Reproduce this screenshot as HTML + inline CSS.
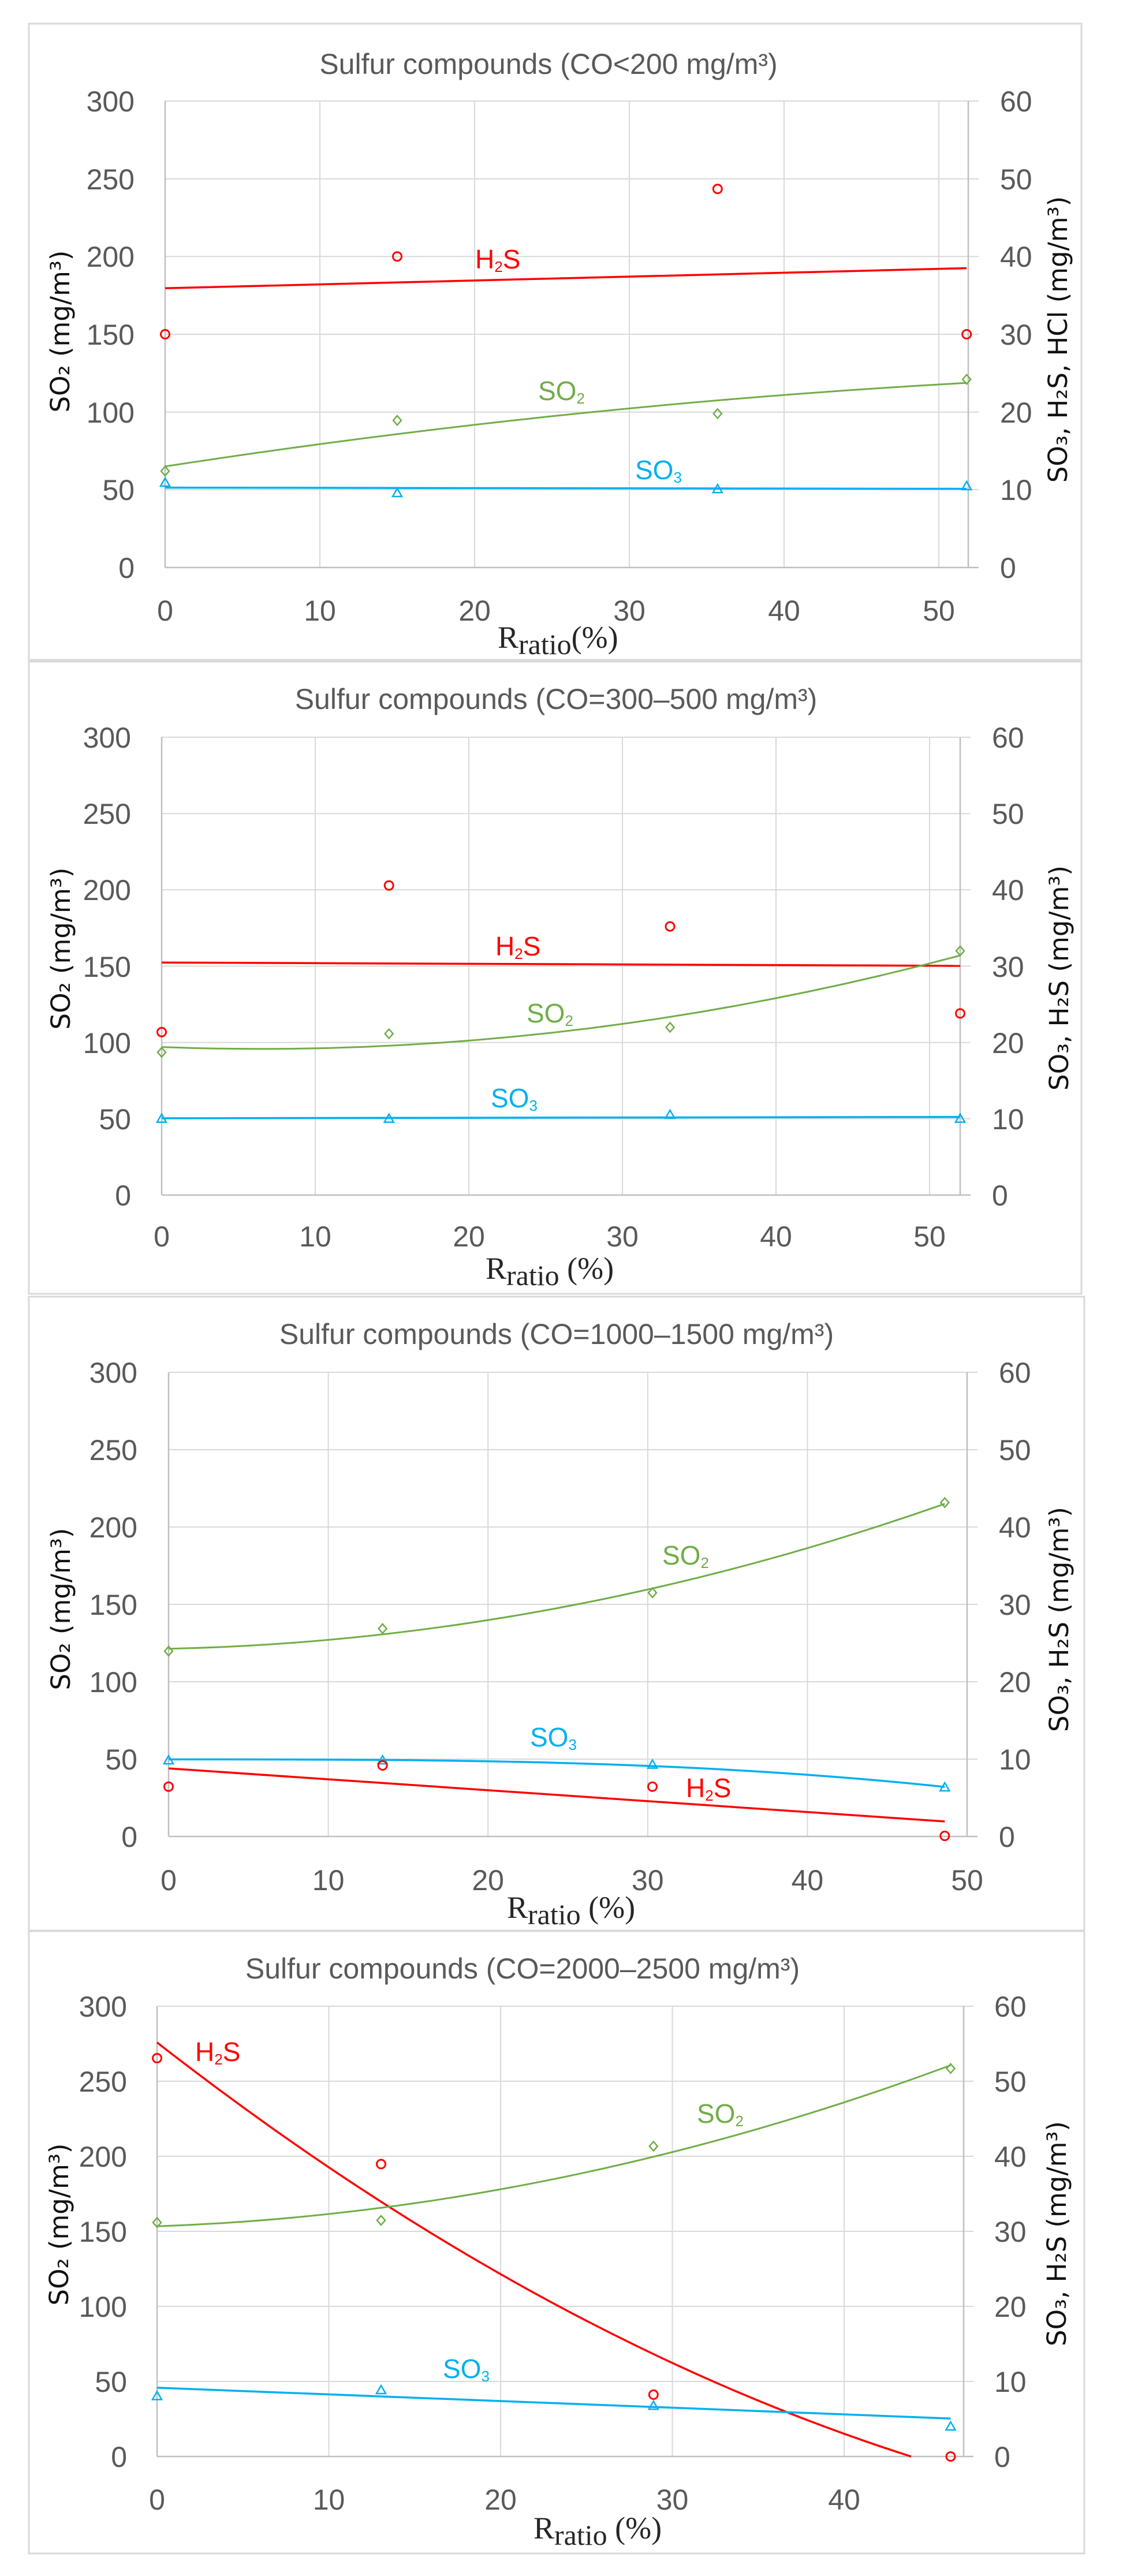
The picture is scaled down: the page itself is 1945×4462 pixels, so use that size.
<!DOCTYPE html>
<html><head><meta charset="utf-8"><style>
html,body{margin:0;padding:0;background:#fff}
svg{display:block}
.tk{font-family:"Liberation Sans",sans-serif;font-size:50px;fill:#595959}
.tl{font-family:"Liberation Sans",sans-serif;font-size:50px;fill:#595959;text-anchor:middle}
.ax{font-family:"DejaVu Sans",sans-serif;font-size:45px;fill:#111;text-anchor:middle}
.xt{font-family:"Liberation Serif",serif;font-size:54px;fill:#262626}
.lb{font-family:"Liberation Sans",sans-serif;font-size:46px}
.g{stroke:#d9d9d9;stroke-width:2;fill:none}
.a{stroke:#bfbfbf;stroke-width:2.5;fill:none}
.bd{stroke:#d9d9d9;stroke-width:3;fill:none}
.r{stroke:#ff0000;fill:none}
.gr{stroke:#70ad47;fill:none}
.bl{stroke:#00b0f0;fill:none}
</style></head><body>
<svg width="1945" height="4462" viewBox="0 0 1945 4462" xmlns="http://www.w3.org/2000/svg">
<rect width="1945" height="4462" fill="#fff"/>

<!-- ================= PANEL 1 ================= -->
<rect class="bd" x="50" y="41" width="1823" height="1102"/>
<text class="tl" x="950" y="128">Sulfur compounds  (CO&lt;200 mg/m³)</text>
<g class="g">
<line x1="286" y1="848.3" x2="1695" y2="848.3"/><line x1="286" y1="713.7" x2="1695" y2="713.7"/>
<line x1="286" y1="579" x2="1695" y2="579"/><line x1="286" y1="444.3" x2="1695" y2="444.3"/>
<line x1="286" y1="309.7" x2="1695" y2="309.7"/><line x1="286" y1="175" x2="1695" y2="175"/>
<line x1="554" y1="175" x2="554" y2="983"/><line x1="822" y1="175" x2="822" y2="983"/>
<line x1="1090" y1="175" x2="1090" y2="983"/><line x1="1358" y1="175" x2="1358" y2="983"/>
<line x1="1626" y1="175" x2="1626" y2="983"/>
</g>
<g class="a">
<line x1="286" y1="175" x2="286" y2="983"/><line x1="1677" y1="175" x2="1677" y2="983"/>
<line x1="286" y1="983" x2="1695" y2="983"/>
</g>
<g class="tk" text-anchor="end">
<text x="233" y="1001">0</text><text x="233" y="866">50</text><text x="233" y="732">100</text>
<text x="233" y="597">150</text><text x="233" y="462">200</text><text x="233" y="328">250</text><text x="233" y="193">300</text>
</g>
<g class="tk">
<text x="1732" y="1001">0</text><text x="1732" y="866">10</text><text x="1732" y="732">20</text>
<text x="1732" y="597">30</text><text x="1732" y="462">40</text><text x="1732" y="328">50</text><text x="1732" y="193">60</text>
</g>
<g class="tl">
<text x="286" y="1075">0</text><text x="554" y="1075">10</text><text x="822" y="1075">20</text>
<text x="1090" y="1075">30</text><text x="1358" y="1075">40</text><text x="1626" y="1075">50</text>
</g>
<text class="ax" transform="translate(120,574) rotate(-90)">SO₂ (mg/m³)</text>
<text class="ax" transform="translate(1848,588) rotate(-90)">SO₃, H₂S, HCl (mg/m³)</text>
<text class="xt" x="862" y="1122">R<tspan dy="11" font-size="50">ratio</tspan><tspan dy="-11">(%)</tspan></text>
<!-- trends -->
<line class="r" stroke-width="3.5" x1="286" y1="499.3" x2="1674" y2="464.5"/>
<path class="gr" stroke-width="3" d="M286,807.9 Q980.1,701.3 1674.2,663.3"/>
<line class="bl" stroke-width="3.5" x1="286" y1="844.6" x2="1674" y2="846.7"/>
<!-- points -->
<g class="r" stroke-width="3">
<circle cx="286" cy="579" r="7.5"/><circle cx="688" cy="444.3" r="7.5"/>
<circle cx="1242.8" cy="327.2" r="7.5"/><circle cx="1674.2" cy="579" r="7.5"/>
</g>
<g class="gr" stroke-width="2.5">
<polygon points="286,808 293,816 286,824 279,816"/><polygon points="688,720.2 695,728.2 688,736.2 681,728.2"/>
<polygon points="1242.8,708.4 1249.8,716.4 1242.8,724.4 1235.8,716.4"/><polygon points="1674.2,649.1 1681.2,657.1 1674.2,665.1 1667.2,657.1"/>
</g>
<g class="bl" stroke-width="2.5">
<polygon points="286,828 294,842 278,842"/><polygon points="688,846 696,860 680,860"/>
<polygon points="1242.8,839.3 1250.8,853.3 1234.8,853.3"/><polygon points="1674.2,834 1682.2,848 1666.2,848"/>
</g>
<text class="lb" x="823" y="465" fill="#ff0000">H<tspan font-size="26" dy="6">2</tspan><tspan dy="-6">S</tspan></text>
<text class="lb" x="932" y="693" fill="#70ad47">SO<tspan font-size="26" dy="6">2</tspan></text>
<text class="lb" x="1100" y="830" fill="#00b0f0">SO<tspan font-size="26" dy="6">3</tspan></text>

<!-- ================= PANEL 2 ================= -->
<rect class="bd" x="50" y="1146" width="1823" height="1095"/>
<text class="tl" x="963" y="1228">Sulfur compounds  (CO=300–500 mg/m³)</text>
<g class="g">
<line x1="280" y1="1937.8" x2="1681" y2="1937.8"/><line x1="280" y1="1805.7" x2="1681" y2="1805.7"/>
<line x1="280" y1="1673.5" x2="1681" y2="1673.5"/><line x1="280" y1="1541.3" x2="1681" y2="1541.3"/>
<line x1="280" y1="1409.2" x2="1681" y2="1409.2"/><line x1="280" y1="1277" x2="1681" y2="1277"/>
<line x1="546" y1="1277" x2="546" y2="2070"/><line x1="812" y1="1277" x2="812" y2="2070"/>
<line x1="1078" y1="1277" x2="1078" y2="2070"/><line x1="1344" y1="1277" x2="1344" y2="2070"/>
<line x1="1610" y1="1277" x2="1610" y2="2070"/>
</g>
<g class="a">
<line x1="280" y1="1277" x2="280" y2="2070"/><line x1="1663" y1="1277" x2="1663" y2="2070"/>
<line x1="280" y1="2070" x2="1681" y2="2070"/>
</g>
<g class="tk" text-anchor="end">
<text x="227" y="2088">0</text><text x="227" y="1956">50</text><text x="227" y="1824">100</text>
<text x="227" y="1692">150</text><text x="227" y="1559">200</text><text x="227" y="1427">250</text><text x="227" y="1295">300</text>
</g>
<g class="tk">
<text x="1718" y="2088">0</text><text x="1718" y="1956">10</text><text x="1718" y="1824">20</text>
<text x="1718" y="1692">30</text><text x="1718" y="1559">40</text><text x="1718" y="1427">50</text><text x="1718" y="1295">60</text>
</g>
<g class="tl">
<text x="280" y="2159">0</text><text x="546" y="2159">10</text><text x="812" y="2159">20</text>
<text x="1078" y="2159">30</text><text x="1344" y="2159">40</text><text x="1610" y="2159">50</text>
</g>
<text class="ax" transform="translate(121,1643) rotate(-90)">SO₂ (mg/m³)</text>
<text class="ax" transform="translate(1850,1694) rotate(-90)">SO₃, H₂S (mg/m³)</text>
<text class="xt" x="841" y="2215">R<tspan dy="11" font-size="50">ratio</tspan><tspan dy="-11"> (%)</tspan></text>
<line class="r" stroke-width="3.5" x1="280" y1="1667.2" x2="1663" y2="1673"/>
<path class="gr" stroke-width="3" d="M280,1813.6 Q971.6,1839.8 1663,1655"/>
<line class="bl" stroke-width="3.5" x1="280" y1="1937" x2="1663" y2="1934.7"/>
<g class="r" stroke-width="3">
<circle cx="280" cy="1787.7" r="7.5"/><circle cx="673.7" cy="1533.7" r="7.5"/>
<circle cx="1160.5" cy="1604.8" r="7.5"/><circle cx="1663" cy="1755.4" r="7.5"/>
</g>
<g class="gr" stroke-width="2.5">
<polygon points="280,1814.8 287,1822.8 280,1830.8 273,1822.8"/><polygon points="673.7,1782.6 680.7,1790.6 673.7,1798.6 666.7,1790.6"/>
<polygon points="1160.5,1771.5 1167.5,1779.5 1160.5,1787.5 1153.5,1779.5"/><polygon points="1663,1639.1 1670,1647.1 1663,1655.1 1656,1647.1"/>
</g>
<g class="bl" stroke-width="2.5">
<polygon points="280,1929.8 288,1943.8 272,1943.8"/><polygon points="673.7,1929.8 681.7,1943.8 665.7,1943.8"/>
<polygon points="1160.5,1923 1168.5,1937 1152.5,1937"/><polygon points="1663,1929.8 1671,1943.8 1655,1943.8"/>
</g>
<text class="lb" x="858" y="1655" fill="#ff0000">H<tspan font-size="26" dy="6">2</tspan><tspan dy="-6">S</tspan></text>
<text class="lb" x="912" y="1771" fill="#70ad47">SO<tspan font-size="26" dy="6">2</tspan></text>
<text class="lb" x="850" y="1918" fill="#00b0f0">SO<tspan font-size="26" dy="6">3</tspan></text>

<!-- ================= PANEL 3 ================= -->
<rect class="bd" x="50" y="2246" width="1828" height="1098"/>
<text class="tl" x="964" y="2328">Sulfur compounds  (CO=1000–1500 mg/m³)</text>
<g class="g">
<line x1="292" y1="3047" x2="1693" y2="3047"/><line x1="292" y1="2913" x2="1693" y2="2913"/>
<line x1="292" y1="2779" x2="1693" y2="2779"/><line x1="292" y1="2645" x2="1693" y2="2645"/>
<line x1="292" y1="2511" x2="1693" y2="2511"/><line x1="292" y1="2377" x2="1693" y2="2377"/>
<line x1="568.6" y1="2377" x2="568.6" y2="3181"/><line x1="845.2" y1="2377" x2="845.2" y2="3181"/>
<line x1="1121.8" y1="2377" x2="1121.8" y2="3181"/><line x1="1398.4" y1="2377" x2="1398.4" y2="3181"/>
</g>
<g class="a">
<line x1="292" y1="2377" x2="292" y2="3181"/><line x1="1675" y1="2377" x2="1675" y2="3181"/>
<line x1="292" y1="3181" x2="1693" y2="3181"/>
</g>
<g class="tk" text-anchor="end">
<text x="238" y="3199">0</text><text x="238" y="3065">50</text><text x="238" y="2931">100</text>
<text x="238" y="2797">150</text><text x="238" y="2663">200</text><text x="238" y="2529">250</text><text x="238" y="2395">300</text>
</g>
<g class="tk">
<text x="1730" y="3199">0</text><text x="1730" y="3065">10</text><text x="1730" y="2931">20</text>
<text x="1730" y="2797">30</text><text x="1730" y="2663">40</text><text x="1730" y="2529">50</text><text x="1730" y="2395">60</text>
</g>
<g class="tl">
<text x="292" y="3274">0</text><text x="568.6" y="3274">10</text><text x="845.2" y="3274">20</text>
<text x="1121.8" y="3274">30</text><text x="1398.4" y="3274">40</text><text x="1675" y="3274">50</text>
</g>
<text class="ax" transform="translate(121,2787) rotate(-90)">SO₂ (mg/m³)</text>
<text class="ax" transform="translate(1850,2805) rotate(-90)">SO₃, H₂S (mg/m³)</text>
<text class="xt" x="878" y="3322">R<tspan dy="11" font-size="50">ratio</tspan><tspan dy="-11"> (%)</tspan></text>
<path class="gr" stroke-width="3" d="M292,2855.9 Q964.1,2841.2 1636.3,2604.8"/>
<path class="bl" stroke-width="3.5" d="M292,3047.5 C740.1,3047.5 1188.2,3047.5 1636.3,3095.2"/>
<line class="r" stroke-width="3.5" x1="292" y1="3063.1" x2="1636.3" y2="3155"/>
<g class="gr" stroke-width="2.5">
<polygon points="292,2852 299,2860 292,2868 285,2860"/><polygon points="662.6,2813 669.6,2821 662.6,2829 655.6,2821"/>
<polygon points="1130,2750.9 1137,2758.9 1130,2766.9 1123,2758.9"/><polygon points="1636.3,2594.7 1643.3,2602.7 1636.3,2610.7 1629.3,2602.7"/>
</g>
<g class="bl" stroke-width="2.5">
<polygon points="292,3041.1 300,3055.1 284,3055.1"/><polygon points="662.6,3041.1 670.6,3055.1 654.6,3055.1"/>
<polygon points="1130,3048.6 1138,3062.6 1122,3062.6"/><polygon points="1636.3,3088 1644.3,3102 1628.3,3102"/>
</g>
<g class="r" stroke-width="3">
<circle cx="292" cy="3094.7" r="7.5"/><circle cx="662.6" cy="3058" r="7.5"/>
<circle cx="1130" cy="3094.7" r="7.5"/><circle cx="1636.3" cy="3180" r="7.5"/>
</g>
<text class="lb" x="1147" y="2710" fill="#70ad47">SO<tspan font-size="26" dy="6">2</tspan></text>
<text class="lb" x="918" y="3025" fill="#00b0f0">SO<tspan font-size="26" dy="6">3</tspan></text>
<text class="lb" x="1188" y="3113" fill="#ff0000">H<tspan font-size="26" dy="6">2</tspan><tspan dy="-6">S</tspan></text>

<!-- ================= PANEL 4 ================= -->
<rect class="bd" x="50" y="3345" width="1828" height="1078"/>
<text class="tl" x="905" y="3427">Sulfur compounds  (CO=2000–2500 mg/m³)</text>
<g class="g">
<line x1="272" y1="4125" x2="1686" y2="4125"/><line x1="272" y1="3995" x2="1686" y2="3995"/>
<line x1="272" y1="3865" x2="1686" y2="3865"/><line x1="272" y1="3735" x2="1686" y2="3735"/>
<line x1="272" y1="3605" x2="1686" y2="3605"/><line x1="272" y1="3475" x2="1686" y2="3475"/>
<line x1="569.5" y1="3475" x2="569.5" y2="4255"/><line x1="867" y1="3475" x2="867" y2="4255"/>
<line x1="1164.5" y1="3475" x2="1164.5" y2="4255"/><line x1="1462" y1="3475" x2="1462" y2="4255"/>
</g>
<g class="a">
<line x1="272" y1="3475" x2="272" y2="4255"/><line x1="1669" y1="3475" x2="1669" y2="4255"/>
<line x1="272" y1="4255" x2="1686" y2="4255"/>
</g>
<g class="tk" text-anchor="end">
<text x="220" y="4273">0</text><text x="220" y="4143">50</text><text x="220" y="4013">100</text>
<text x="220" y="3883">150</text><text x="220" y="3753">200</text><text x="220" y="3623">250</text><text x="220" y="3493">300</text>
</g>
<g class="tk">
<text x="1722" y="4273">0</text><text x="1722" y="4143">10</text><text x="1722" y="4013">20</text>
<text x="1722" y="3883">30</text><text x="1722" y="3753">40</text><text x="1722" y="3623">50</text><text x="1722" y="3493">60</text>
</g>
<g class="tl">
<text x="272" y="4347">0</text><text x="569.5" y="4347">10</text><text x="867" y="4347">20</text>
<text x="1164.5" y="4347">30</text><text x="1462" y="4347">40</text>
</g>
<text class="ax" transform="translate(118,3853) rotate(-90)">SO₂ (mg/m³)</text>
<text class="ax" transform="translate(1846,3869) rotate(-90)">SO₃, H₂S (mg/m³)</text>
<text class="xt" x="924" y="4397">R<tspan dy="11" font-size="50">ratio</tspan><tspan dy="-11"> (%)</tspan></text>
<path class="r" stroke-width="3.5" d="M272,3537.9 Q925,4046.7 1578,4255"/>
<path class="gr" stroke-width="3" d="M272,3856.2 Q959.2,3832.2 1646.5,3577.4"/>
<line class="bl" stroke-width="3.5" x1="272" y1="4135.9" x2="1646.5" y2="4189.2"/>
<g class="r" stroke-width="3">
<circle cx="272" cy="3565" r="7.5"/><circle cx="660" cy="3748.5" r="7.5"/>
<circle cx="1131.8" cy="4147.9" r="7.5"/><circle cx="1646.5" cy="4255" r="7.5"/>
</g>
<g class="gr" stroke-width="2.5">
<polygon points="272,3841.7 279,3849.7 272,3857.7 265,3849.7"/><polygon points="660,3838 667,3846 660,3854 653,3846"/>
<polygon points="1131.8,3709.6 1138.8,3717.6 1131.8,3725.6 1124.8,3717.6"/><polygon points="1646.5,3574.9 1653.5,3582.9 1646.5,3590.9 1639.5,3582.9"/>
</g>
<g class="bl" stroke-width="2.5">
<polygon points="272,4142.4 280,4156.4 264,4156.4"/><polygon points="660,4132 668,4146 652,4146"/>
<polygon points="1131.8,4159.1 1139.8,4173.1 1123.8,4173.1"/><polygon points="1646.5,4195 1654.5,4209 1638.5,4209"/>
</g>
<text class="lb" x="338" y="3570" fill="#ff0000">H<tspan font-size="26" dy="6">2</tspan><tspan dy="-6">S</tspan></text>
<text class="lb" x="1207" y="3677" fill="#70ad47">SO<tspan font-size="26" dy="6">2</tspan></text>
<text class="lb" x="767" y="4119" fill="#00b0f0">SO<tspan font-size="26" dy="6">3</tspan></text>
</svg>
</body></html>
